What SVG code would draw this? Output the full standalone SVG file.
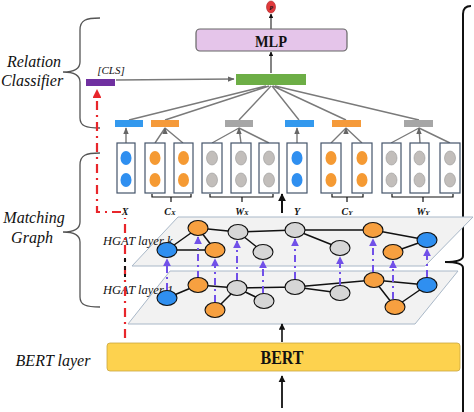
<svg xmlns="http://www.w3.org/2000/svg" width="474" height="412" viewBox="0 0 474 412">
<style>
text{font-family:"Liberation Serif","Times New Roman",serif;fill:#111}
.lbl{font-style:italic;font-size:16px}
.hg{font-style:italic;font-size:12.5px}
.sm{font-style:italic;font-weight:bold;font-size:10px}
.brace{fill:none;stroke:#555;stroke-width:1.3}
.gl{stroke:#7a7a7a;stroke-width:1.4;fill:none}
.box{fill:#fff;stroke:#44546a;stroke-width:1.2}
.cb{fill:#2f8ff0}
.co{fill:#f59a33}
.cg{fill:#c2bebb;stroke:#999;stroke-width:.6}
.edge{stroke:#111;stroke-width:1.5;fill:none}
.nb{fill:#2f8ff0;stroke:#111;stroke-width:1.1}
.no{fill:#f7a040;stroke:#111;stroke-width:1.1}
.ng{fill:#d6d6d6;stroke:#111;stroke-width:1.1}
.pa{stroke:#7150e8;stroke-width:2;stroke-dasharray:7 4 2 4;fill:none}
.brk{fill:none;stroke:#111;stroke-width:1.2}
.plane{fill:#f2f2f2;stroke:#a9b8c8;stroke-width:1}
</style>
<defs>
<marker id="ag" viewBox="0 0 10 10" refX="9" refY="5" markerWidth="5" markerHeight="5" orient="auto"><path d="M0,1 L10,5 L0,9 Z" fill="#666"/></marker>
<marker id="ab" viewBox="0 0 10 10" refX="9" refY="5" markerWidth="4" markerHeight="4" orient="auto"><path d="M0,0 L10,5 L0,10 Z" fill="#111"/></marker>
<marker id="ap" viewBox="0 0 10 10" refX="9" refY="5" markerWidth="4" markerHeight="4" orient="auto"><path d="M0,0 L10,5 L0,10 Z" fill="#7150e8"/></marker>
<marker id="ar" viewBox="0 0 10 10" refX="9" refY="5" markerWidth="4" markerHeight="4" orient="auto"><path d="M0,0 L10,5 L0,10 Z" fill="#e8262b"/></marker>
</defs>
<rect width="474" height="412" fill="#fff"/>

<!-- side labels and braces -->
<g id="relation-classifier-label">
<text class="lbl" x="34" y="67" text-anchor="middle">Relation</text>
<text class="lbl" x="32" y="86" text-anchor="middle">Classifier</text>
<path class="brace" d="M100,18 C86,18 80,20 80,30 L80,62 C80,70 72,72 63,72 C72,72 80,74 80,82 L80,118 C80,126 86,128 100,128"/>
</g>
<g id="matching-graph-label">
<text class="lbl" x="34" y="223" text-anchor="middle">Matching</text>
<text class="lbl" x="32" y="243" text-anchor="middle">Graph</text>
<path class="brace" d="M100,153 C86,153 80,155 80,165 L80,222 C80,230 72,232 63,232 C72,232 80,234 80,242 L80,297 C80,305 86,307 100,307"/>
</g>
<g id="bert-layer-label">
<text class="lbl" x="53" y="366" text-anchor="middle">BERT layer</text>
</g>
<g id="right-brace">
<path d="M471,6 C466,6 463,8 463,14 L463,256 C463,260 456,262 445,262 C456,262 463,264 463,268 L463,414" fill="none" stroke="#111" stroke-width="2"/>
</g>

<!-- planes -->
<g id="plane-layer1">
<polygon class="plane" points="170,271 458,271 415,324 128,324"/>
</g>
<g id="plane-layerk">
<polygon class="plane" points="178,217 473,217 425,266 132,266"/>
</g>
<g id="hgat-labels">
<text class="hg" x="103" y="245">HGAT layer k</text>
<text class="hg" x="103" y="294">HGAT layer 1</text>
</g>

<!-- connectors -->
<g id="connectors">
<!-- red CLS path -->
<path d="M125,338 L125,218" stroke="#e8262b" stroke-width="2.2" stroke-dasharray="9 5 2 5" fill="none"/>
<path d="M121,212 L97,212 L97,90" stroke="#e8262b" stroke-width="2.2" stroke-dasharray="9 5 2 5" fill="none" marker-end="url(#ar)"/>
<path d="M125,258 V262 M125,266 V270 M125,274 V277" stroke="#111" stroke-width="2"/>
<!-- CLS to green -->
<line class="gl" x1="116" y1="80" x2="234" y2="79" marker-end="url(#ag)"/>
<!-- green to MLP, MLP to P -->
<line x1="271" y1="73" x2="271" y2="52" stroke="#333" stroke-width="1.2" marker-end="url(#ab)"/>
<line x1="271" y1="29" x2="271" y2="14" stroke="#333" stroke-width="1.2" marker-end="url(#ab)"/>
<!-- green to bars -->
<path class="gl" d="M266,86 L129,120 M269,86 L165,120 M271,86 L239,120 M272,86 L299,120 M273,86 L346,120 M275,86 L419,120"/>
<!-- boxes to bars -->
<line class="gl" x1="126" y1="143" x2="126" y2="128" marker-end="url(#ag)"/>
<path class="gl" d="M155,143 L165,128 M183,143 L165,128"/>
<line class="gl" x1="165" y1="130" x2="165" y2="128" marker-end="url(#ag)"/>
<path class="gl" d="M212,143 L239,128 M241,143 L239,128 M269,143 L239,128"/>
<line class="gl" x1="239" y1="130" x2="239" y2="128" marker-end="url(#ag)"/>
<line class="gl" x1="297" y1="143" x2="297" y2="128" marker-end="url(#ag)"/>
<path class="gl" d="M331,143 L346,128 M362,143 L346,128"/>
<line class="gl" x1="346" y1="130" x2="346" y2="128" marker-end="url(#ag)"/>
<path class="gl" d="M391,143 L419,128 M420,143 L419,128 M450,143 L419,128"/>
<line class="gl" x1="419" y1="130" x2="419" y2="128" marker-end="url(#ag)"/>
<!-- black arrows -->
<line x1="282" y1="213" x2="282" y2="194" stroke="#111" stroke-width="2" marker-end="url(#ab)"/>
<line x1="282" y1="342" x2="282" y2="324" stroke="#111" stroke-width="1.6" marker-end="url(#ab)"/>
<line x1="282" y1="408" x2="282" y2="376" stroke="#111" stroke-width="1.8" marker-end="url(#ab)"/>
<!-- graph edges layer k -->
<path class="edge" d="M167,250 L198,228 M167,250 L215,250 M198,228 L215,250 M198,228 L238,232 M238,232 L295,230 M238,232 L263,252 M295,230 L340,248 M295,230 L373,230 M373,230 L427,240 M393,252 L427,240"/>
<!-- graph edges layer 1 -->
<path class="edge" d="M167,298 L198,285 M198,285 L237,288 M215,310 L237,288 M237,288 L264,301 M237,288 L295,287 M295,287 L340,293 M295,287 L374,280 M374,280 L427,285 M374,280 L395,307 M395,307 L427,285"/>
<!-- purple inter-layer arrows -->
<path class="pa" d="M167,290 V259" marker-end="url(#ap)"/>
<path class="pa" d="M198,278 V237" marker-end="url(#ap)"/>
<path class="pa" d="M215,302 V259" marker-end="url(#ap)"/>
<path class="pa" d="M237,280 V241" marker-end="url(#ap)"/>
<path class="pa" d="M263,293 V261" marker-end="url(#ap)"/>
<path class="pa" d="M295,279 V239" marker-end="url(#ap)"/>
<path class="pa" d="M340,285 V257" marker-end="url(#ap)"/>
<path class="pa" d="M373,272 V239" marker-end="url(#ap)"/>
<path class="pa" d="M393,299 V261" marker-end="url(#ap)"/>
<path class="pa" d="M427,277 V249" marker-end="url(#ap)"/>
</g>

<!-- top nodes -->
<g id="p-node"><ellipse cx="271" cy="7" rx="4.5" ry="6" fill="#e0393c" stroke="#a22" stroke-width=".6"/><text x="271" y="9.5" text-anchor="middle" style="font-size:6px;font-style:italic;font-weight:bold">P</text></g>
<g id="mlp"><rect x="196" y="29" width="151" height="22" rx="4" fill="#e5c5ea" stroke="#666" stroke-width="1.2"/><text x="271" y="46.5" text-anchor="middle" style="font-size:16px;font-weight:bold" textLength="32" lengthAdjust="spacingAndGlyphs">MLP</text></g>
<g id="concat"><rect x="236" y="74" width="70" height="11" fill="#6dae46"/></g>
<g id="cls"><rect x="86" y="79" width="29" height="7" fill="#7030a0"/><text x="111" y="74" text-anchor="middle" style="font-size:11px;font-style:italic">[CLS]</text></g>

<!-- pooled bars -->
<g id="bar-x"><rect x="115" y="120" width="28" height="7" fill="#3399ee"/></g>
<g id="bar-cx"><rect x="151" y="120" width="28" height="7" fill="#f59a3a"/></g>
<g id="bar-wx"><rect x="225" y="120" width="28" height="7" fill="#a6a6a6"/></g>
<g id="bar-y"><rect x="285" y="120" width="29" height="7" fill="#3399ee"/></g>
<g id="bar-cy"><rect x="332" y="120" width="29" height="7" fill="#f59a3a"/></g>
<g id="bar-wy"><rect x="404" y="120" width="29" height="7" fill="#a6a6a6"/></g>

<!-- token columns -->
<g id="col-x"><rect class="box" x="117" y="143" width="18" height="50"/><ellipse class="cb" cx="126" cy="158" rx="5.5" ry="7"/><ellipse class="cb" cx="126" cy="180" rx="5.5" ry="7"/></g>
<g id="col-cx1"><rect class="box" x="145" y="143" width="20" height="50"/><ellipse class="co" cx="155" cy="158" rx="5.5" ry="7"/><ellipse class="co" cx="155" cy="180" rx="5.5" ry="7"/></g>
<g id="col-cx2"><rect class="box" x="174" y="143" width="19" height="50"/><ellipse class="co" cx="183.5" cy="158" rx="5.5" ry="7"/><ellipse class="co" cx="183.5" cy="180" rx="5.5" ry="7"/></g>
<g id="col-wx1"><rect class="box" x="202" y="143" width="20" height="50"/><ellipse class="cg" cx="212" cy="158" rx="5.5" ry="7"/><ellipse class="cg" cx="212" cy="180" rx="5.5" ry="7"/></g>
<g id="col-wx2"><rect class="box" x="231" y="143" width="20" height="50"/><ellipse class="cg" cx="241" cy="158" rx="5.5" ry="7"/><ellipse class="cg" cx="241" cy="180" rx="5.5" ry="7"/></g>
<g id="col-wx3"><rect class="box" x="259" y="143" width="20" height="50"/><ellipse class="cg" cx="269" cy="158" rx="5.5" ry="7"/><ellipse class="cg" cx="269" cy="180" rx="5.5" ry="7"/></g>
<g id="col-y"><rect class="box" x="287" y="143" width="20" height="50"/><ellipse class="cb" cx="297" cy="158" rx="5.5" ry="7"/><ellipse class="cb" cx="297" cy="180" rx="5.5" ry="7"/></g>
<g id="col-cy1"><rect class="box" x="321" y="143" width="20" height="50"/><ellipse class="co" cx="331" cy="158" rx="5.5" ry="7"/><ellipse class="co" cx="331" cy="180" rx="5.5" ry="7"/></g>
<g id="col-cy2"><rect class="box" x="352" y="143" width="20" height="50"/><ellipse class="co" cx="362" cy="158" rx="5.5" ry="7"/><ellipse class="co" cx="362" cy="180" rx="5.5" ry="7"/></g>
<g id="col-wy1"><rect class="box" x="382" y="143" width="19" height="50"/><ellipse class="cg" cx="391.5" cy="158" rx="5.5" ry="7"/><ellipse class="cg" cx="391.5" cy="180" rx="5.5" ry="7"/></g>
<g id="col-wy2"><rect class="box" x="410" y="143" width="19" height="50"/><ellipse class="cg" cx="419.5" cy="158" rx="5.5" ry="7"/><ellipse class="cg" cx="419.5" cy="180" rx="5.5" ry="7"/></g>
<g id="col-wy3"><rect class="box" x="440" y="143" width="20" height="50"/><ellipse class="cg" cx="450" cy="158" rx="5.5" ry="7"/><ellipse class="cg" cx="450" cy="180" rx="5.5" ry="7"/></g>

<!-- brackets and labels -->
<g id="group-labels">
<path class="brk" d="M152,194 V197 H191 V194 M171,197 V202"/>
<path class="brk" d="M210,194 V197 H273 V194 M242,197 V202"/>
<path class="brk" d="M332,194 V197 H363 V194 M347,197 V202"/>
<path class="brk" d="M392,194 V197 H453 V194 M423,197 V202"/>
<text class="sm" x="125" y="215" text-anchor="middle">X</text>
<text class="sm" x="170" y="215" text-anchor="middle">C<tspan style="font-size:7px">X</tspan></text>
<text class="sm" x="242" y="215" text-anchor="middle">W<tspan style="font-size:7px">X</tspan></text>
<text class="sm" x="297" y="215" text-anchor="middle">Y</text>
<text class="sm" x="347" y="215" text-anchor="middle">C<tspan style="font-size:7px">Y</tspan></text>
<text class="sm" x="423" y="215" text-anchor="middle">W<tspan style="font-size:7px">Y</tspan></text>
</g>

<!-- graph nodes layer k -->
<g id="k-nodes">
<ellipse id="k1" class="nb" cx="167" cy="250" rx="10" ry="7.5"/>
<ellipse id="k2" class="no" cx="198" cy="228" rx="10" ry="7.5"/>
<ellipse id="k3" class="no" cx="215" cy="250" rx="10" ry="7.5"/>
<ellipse id="k4" class="ng" cx="238" cy="232" rx="10" ry="7.5"/>
<ellipse id="k5" class="ng" cx="263" cy="252" rx="10" ry="7.5"/>
<ellipse id="k6" class="ng" cx="295" cy="230" rx="10" ry="7.5"/>
<ellipse id="k7" class="ng" cx="340" cy="248" rx="10" ry="7.5"/>
<ellipse id="k8" class="no" cx="373" cy="230" rx="10" ry="7.5"/>
<ellipse id="k9" class="no" cx="393" cy="252" rx="10" ry="7.5"/>
<ellipse id="k10" class="nb" cx="427" cy="240" rx="10" ry="7.5"/>
</g>
<!-- graph nodes layer 1 -->
<g id="l1-nodes">
<ellipse id="a1" class="nb" cx="167" cy="298" rx="10" ry="7.5"/>
<ellipse id="a2" class="no" cx="198" cy="285" rx="10" ry="7.5"/>
<ellipse id="a3" class="no" cx="215" cy="310" rx="10" ry="7.5"/>
<ellipse id="a4" class="ng" cx="237" cy="288" rx="10" ry="7.5"/>
<ellipse id="a5" class="ng" cx="264" cy="301" rx="10" ry="7.5"/>
<ellipse id="a6" class="ng" cx="295" cy="287" rx="10" ry="7.5"/>
<ellipse id="a7" class="ng" cx="340" cy="293" rx="10" ry="7.5"/>
<ellipse id="a8" class="no" cx="374" cy="280" rx="10" ry="7.5"/>
<ellipse id="a9" class="no" cx="395" cy="307" rx="10" ry="7.5"/>
<ellipse id="a10" class="nb" cx="427" cy="285" rx="10" ry="7.5"/>
</g>

<g id="bert"><rect x="107" y="343" width="353" height="28" rx="3" fill="#fdd24e" stroke="#c9a640" stroke-width=".8"/><text x="282" y="364" text-anchor="middle" style="font-size:19px;font-weight:bold" textLength="43" lengthAdjust="spacingAndGlyphs">BERT</text></g>
</svg>
